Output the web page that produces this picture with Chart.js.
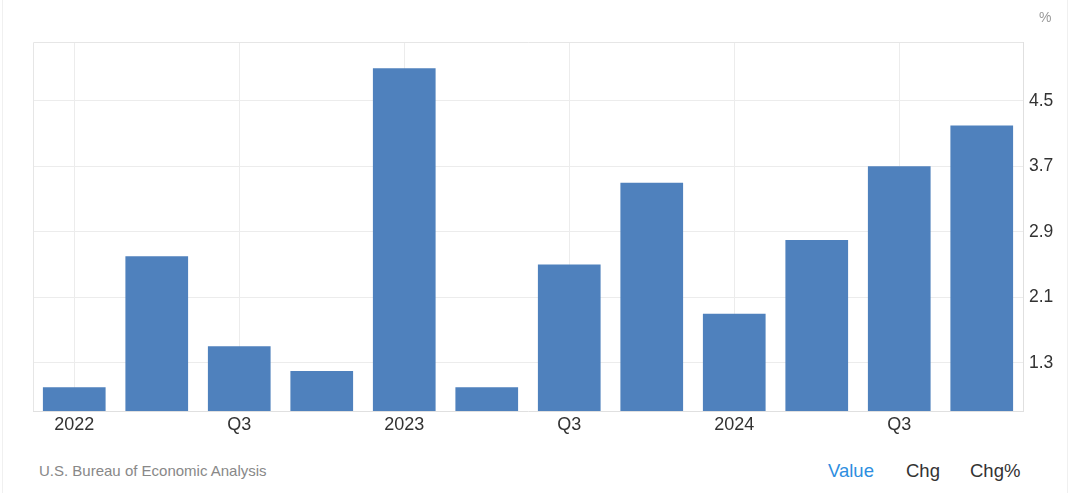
<!DOCTYPE html>
<html>
<head>
<meta charset="utf-8">
<script src="https://cdn.jsdelivr.net/npm/chart.js@4/dist/chart.umd.min.js"></script>
<style>
  html, body { margin: 0; padding: 0; background: #fff; }
  body { width: 1071px; height: 493px; position: relative; overflow: hidden;
         font-family: "Liberation Sans", Arial, sans-serif; }
  .frame { position: absolute; left: 2px; top: 0; width: 1066px; height: 493px;
           border-left: 1px solid #f0f0f0; border-right: 1px solid #f0f0f0; box-sizing: border-box; }
  #wrap { position: absolute; left: 0; top: 0; width: 1071px; height: 442px; }
  .unit { position: absolute; left: 1039px; top: 9px; font-size: 14px; color: #999; }
  .source { position: absolute; left: 39px; top: 462px; font-size: 15px; color: #888; }
  .tabs { position: absolute; top: 460px; font-size: 18.5px; color: #333; }
</style>
</head>
<body>
<div class="frame"></div>
<div id="wrap"><canvas id="chart"></canvas></div>
<div class="unit">%</div>
<div class="source">U.S. Bureau of Economic Analysis</div>
<div class="tabs" style="left:828px;color:#2e8ee0">Value</div>
<div class="tabs" style="left:906px">Chg</div>
<div class="tabs" style="left:970px">Chg%</div>
<script>
// quarters 2022 Q1 .. 2024 Q4
var quarters = ['2022 Q1', '2022 Q2', '2022 Q3', '2022 Q4',
                '2023 Q1', '2023 Q2', '2023 Q3', '2023 Q4',
                '2024 Q1', '2024 Q2', '2024 Q3', '2024 Q4'];
var xLabels = ['2022', '', 'Q3', '', '2023', '', 'Q3', '', '2024', '', 'Q3', ''];
var values = [1.0, 2.6, 1.5, 1.2, 4.9, 1.0, 2.5, 3.5, 1.9, 2.8, 3.7, 4.2];
var yTicks = [1.3, 2.1, 2.9, 3.7, 4.5];

// light box around the plot area
var plotBox = {
    id: 'plotBox',
    afterDraw: function(chart) {
        var a = chart.chartArea, c = chart.ctx;
        c.save();
        c.strokeStyle = '#e6e6e6';
        c.lineWidth = 1;
        c.beginPath();
        c.moveTo(a.left + 0.5, a.bottom);
        c.lineTo(a.left + 0.5, a.top + 0.5);
        c.lineTo(a.right, a.top + 0.5);
        c.stroke();
        c.restore();
    }
};

var ctx = document.getElementById('chart').getContext('2d');
var myChart = new Chart(ctx, {
    type: 'bar',
    data: {
        labels: quarters,
        datasets: [{
            label: 'Value',
            data: values,
            backgroundColor: '#4f81bd',
            borderWidth: 0,
            barPercentage: 0.76,
            categoryPercentage: 1.0
        }]
    },
    options: {
        responsive: true,
        maintainAspectRatio: false,
        animation: false,
        layout: { padding: { left: 33, top: 42, right: 0, bottom: 0 } },
        plugins: { legend: { display: false }, tooltip: { enabled: false } },
        scales: {
            x: {
                grid: {
                    offset: false,
                    drawTicks: false,
                    color: function(c) { return xLabels[c.index] ? '#ececec' : 'rgba(0,0,0,0)'; }
                },
                border: { color: '#e0e0e0' },
                ticks: {
                    autoSkip: false,
                    maxRotation: 0,
                    padding: 3,
                    color: '#333',
                    font: { family: '"Liberation Sans", Arial, sans-serif', size: 18 },
                    callback: function(v, i) { return xLabels[i]; }
                },
                afterFit: function(s) { s.height = 31; }
            },
            y: {
                position: 'right',
                min: 0.71,
                max: 5.22,
                afterBuildTicks: function(s) {
                    s.ticks = yTicks.map(function(v) { return { value: v }; });
                },
                grid: { drawTicks: false, color: '#ececec' },
                border: { color: '#e0e0e0' },
                ticks: {
                    padding: 6,
                    color: '#333',
                    font: { family: '"Liberation Sans", Arial, sans-serif', size: 17.5 },
                    callback: function(v) { return v.toFixed(1); }
                },
                afterFit: function(s) { s.width = 48; }
            }
        }
    },
    plugins: [plotBox]
});
</script>
</body>
</html>
